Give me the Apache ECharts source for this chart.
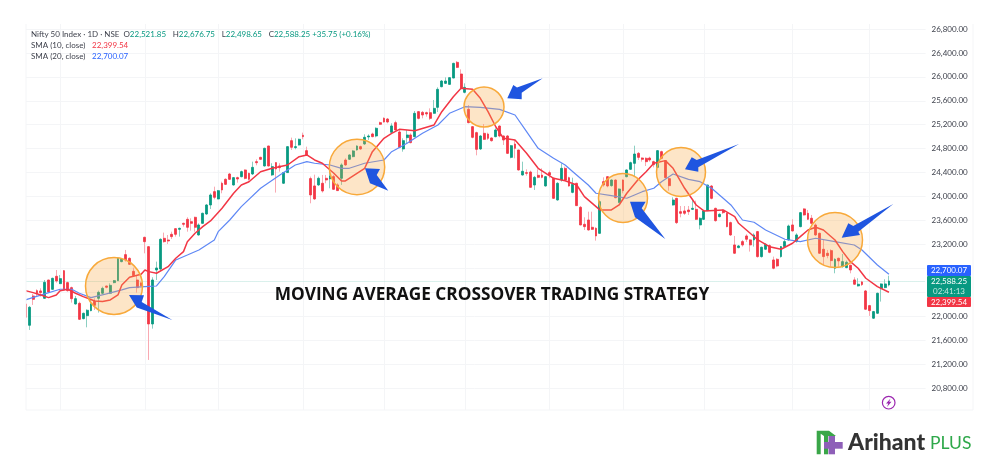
<!DOCTYPE html>
<html>
<head>
<meta charset="utf-8">
<style>
  html, body { margin: 0; padding: 0; background: #fff; }
  #chart { width: 1000px; height: 469px; }
</style>
<script src="https://cdn.jsdelivr.net/npm/echarts@6/dist/echarts.min.js"></script>
</head>
<body>
<div id="chart"></div>
<script>
// daily candles
var opens = [22204,21848,22338,22427,22422,22299,22605,22449,22667,22544,
  22761,22561,22477,22204,22215,21959,22009,22093,22249,22299,
  22383,22505,22383,22561,22594,22912,23029,22967,22750,22605,
  22555,23318,23162,21870,22772,22789,23302,23274,23369,23463,
  23452,23552,23619,23580,23653,23358,23552,23708,23859,24082,
  23959,24221,24288,24377,24193,24316,24332,24444,24388,24377,
  24583,24655,24511,24845,24361,24567,24511,24222,24400,24934,
  24818,24862,25024,24767,24300,24177,24194,24222,24305,24294,
  24333,24194,24305,24611,24623,24667,24779,24834,24879,24996,
  25046,25012,25235,25308,25296,25074,25235,25079,24795,24984,
  25029,25001,25419,25407,25402,25402,25391,25491,25836,25892,
  25875,25981,26243,26048,25742,25458,25168,25068,24795,25057,
  25045,24979,25001,25179,25012,25012,24655,24878,24778,24360,
  24399,24410,24193,24355,24360,24177,24399,24305,23943,24277,
  24471,24315,24070,24221,23820,23536,23608,23486,23469,23385,
  24249,24332,24182,24276,23903,24276,24332,24455,24555,24722,
  24644,24639,24644,24583,24488,24750,24600,24299,23859,23970,
  23747,23759,23775,23786,23786,23525,23619,23764,24176,23803,
  23664,23765,23720,23564,23191,23146,23247,23341,23275,23275,
  23414,22996,23119,23180,22940,22951,22996,23163,23275,23525,
  23247,23497,23793,23720,23637,23525,23386,23119,23052,23096,
  22801,22968,22829,22812,22851,22606,22506,22573,22422,22177,
  21966,22049,22461,22478,22521.85];
var closes = [21982,22149,22282,22371,22394,22566,22405,22633,22589,22628,
  22438,22427,22293,22293,21948,22048,22099,22204,22182,22399,
  22466,22483,22516,22594,22967,22951,22940,22867,22678,22477,
  22511,23246,21870,22605,22806,23285,23246,23257,23330,23369,
  23469,23536,23486,23552,23486,23525,23720,23859,24026,23987,
  24098,24110,24204,24288,24316,24293,24416,24304,24288,24488,
  24566,24622,24806,24511,24500,24461,24483,24400,24834,24823,
  24834,24957,25001,24695,24027,23960,24305,24093,24277,24344,
  24121,24099,24528,24528,24695,24762,24845,24795,24990,25012,
  25001,25141,25207,25246,25246,25180,25112,24823,24934,25029,
  24901,25391,25307,25363,25380,25307,25474,25792,25931,25931,
  25987,26226,26159,25808,25825,25235,24990,24789,25012,24956,
  24973,24934,25112,25012,24945,24722,24850,24806,24444,24422,
  24388,24154,24321,24321,24321,24332,24360,23970,24221,24472,
  24276,24176,24204,23848,23525,23497,23441,23452,23341,23914,
  24193,24176,24276,23981,24126,24098,24444,24566,24711,24655,
  24622,24583,24611,24533,24767,24639,24316,24182,23942,23564,
  23720,23720,23747,23803,23619,23636,23759,24193,23970,23597,
  23703,23731,23497,23358,23052,23174,23191,23286,23191,23358,
  22996,23152,23202,23068,22801,22840,23163,23247,23508,23425,
  23358,23731,23692,23620,23553,23358,23052,22996,23013,22929,
  22951,22924,22912,22901,22773,22534,22534,22528,22116,22094,
  22077,22383,22539,22539,22588.25];
var lows = [21960,21770,22188,22338,22327,22293,22394,22445,22561,22539,
  22427,22410,22227,22193,21937,21948,21814,22082,22104,22060,
  22371,22466,22371,22550,22589,22901,22912,22856,22661,22394,
  22494,23051,21269,21792,22605,22772,23229,23207,23291,23330,
  23330,23497,23413,23430,23413,23346,23547,23692,23792,23954,
  23954,24054,24193,24277,24182,24232,24321,24288,24265,24360,
  24522,24611,24500,24500,24344,24066,24416,24210,24395,24779,
  24790,24851,24957,24684,23887,23943,24177,24066,24222,24138,
  24110,24094,24194,24511,24611,24656,24767,24779,24862,24946,
  24990,24990,25196,25235,25224,25068,25101,24806,24750,24889,
  24889,24990,25290,25307,25335,25279,25385,25413,25825,25881,
  25870,25976,26148,25803,25725,25224,24973,24689,24778,24945,
  24945,24917,24990,24990,24862,24711,24639,24639,24433,24349,
  24349,24148,24110,24305,24305,24165,24305,23960,23930,24249,
  24265,24165,24054,23842,23519,23441,23430,23441,23263,23380,
  24165,24154,24165,23970,23887,24054,24321,24444,24332,24611,
  24583,24510,24583,24488,24477,24622,24304,24098,23848,23541,
  23653,23692,23692,23775,23608,23452,23608,23759,23953,23580,
  23653,23709,23486,23341,23041,23135,23163,23241,23080,23163,
  22979,22979,23107,23052,22784,22818,22979,23152,23263,23414,
  23230,23486,23681,23609,23536,23341,23041,22857,22968,22829,
  22717,22829,22812,22801,22717,22523,22495,22506,22105,22005,
  21954,22038,22244,22467,22498.65];
var highs = [22220,22171,22371,22449,22466,22605,22610,22644,22772,22689,
  22772,22578,22494,22338,22243,22060,22115,22271,22299,22427,
  22494,22511,22550,22605,22972,22967,23107,22984,22812,22672,
  22578,23330,23174,22650,22912,23302,23397,23357,23413,23469,
  23480,23564,23653,23636,23664,23552,23731,23876,24054,24165,
  24110,24249,24304,24394,24327,24332,24433,24455,24399,24583,
  24622,24666,24817,24850,24556,24572,24556,24411,24840,24985,
  24973,24968,25068,24834,24333,24366,24333,24361,24361,24444,
  24361,24222,24556,24639,24706,24779,24857,24851,25040,25040,
  25068,25157,25252,25324,25313,25224,25268,25112,24973,25112,
  25057,25430,25430,25430,25419,25474,25614,25825,25948,25992,
  25992,26237,26265,26126,25892,25530,25179,25084,25029,25212,
  25068,24990,25140,25190,25023,25029,24862,24945,24784,24583,
  24455,24433,24344,24455,24472,24344,24433,24315,24240,24555,
  24500,24332,24315,24232,23842,23653,23747,23747,23486,23931,
  24321,24343,24288,24288,24137,24288,24455,24583,24850,24744,
  24655,24655,24666,24600,24778,24767,24611,24316,23987,23981,
  23842,23842,23842,23942,23931,23653,23775,24198,24193,23814,
  23720,23787,23731,23581,23341,23191,23275,23369,23286,23386,
  23425,23163,23219,23202,22996,22968,23174,23275,23531,23620,
  23386,23742,23804,23776,23692,23553,23397,23274,23107,23119,
  22968,22979,23041,22929,22862,22651,22634,22590,22439,22188,
  22088,22394,22550,22617,22676.75];

// moving averages, read at these candle positions
var sma10Index = [0,2,4,6,8,9,11,13,15,18,20,22,24,25,27,30,31,32,34,37,39,41,42,44,46,48,51,54,56,58,61,64,68,71,73,75,77,80,82,83,88,90,93,95,97,101,106,108,111,113,116,118,120,122,124,127,130,133,137,140,143,145,149,152,154,156,159,161,163,166,168,171,174,176,181,184,185,188,190,193,196,199,201,203,205,207,210,212,214,216,218,221,224];
var sma10 = [22427,22394,22355,22310,22355,22427,22450,22384,22327,22255,22245,22272,22355,22522,22650,22700,22773,22745,22718,22828,22968,23079,23246,23386,23496,23592,23804,24055,24193,24248,24415,24472,24527,24666,24695,24611,24556,24389,24260,24260,24472,24750,24973,25057,25124,25101,25196,25418,25669,25809,25792,25642,25418,25167,24973,24945,24723,24472,24305,24265,24193,23998,23776,23776,23859,24055,24288,24415,24556,24600,24472,24138,23859,23759,23776,23664,23553,23386,23274,23162,23119,23219,23329,23441,23486,23441,23274,23079,22911,22801,22634,22494,22399.54];
var sma20Index = [0,5,9,12,14,17,21,25,27,31,34,36,39,42,45,49,50,53,56,61,66,70,73,75,79,82,84,88,93,95,99,103,107,110,114,118,123,127,130,133,137,140,142,146,148,152,156,160,163,165,168,172,175,178,181,183,186,189,192,197,201,205,210,215,217,221,224];
var sma20 = [22272,22372,22450,22450,22384,22310,22372,22439,22477,22494,22505,22661,22940,23023,23107,23274,23413,23608,23831,24138,24360,24527,24583,24556,24527,24472,24472,24556,24611,24750,24890,25057,25196,25391,25502,25492,25458,25363,25084,24806,24639,24527,24415,24193,24055,24015,23971,24081,24138,24248,24377,24288,24248,24138,23971,23859,23608,23570,23441,23286,23246,23303,23246,23190,23107,22856,22700.07];

var yTicks = [20800,21200,21600,22000,22400,22800,23200,23600,24000,24400,24800,25200,25600,26000,26400,26800];
var slotCount = 234;
var gridCandles = [9,31,50,72,93,114,136,155,176,199,219];

var lastClose = closes[closes.length - 1];
var lastSma10 = sma10[sma10.length - 1];
var lastSma20 = sma20[sma20.length - 1];

var up = "#089981", down = "#f23645", upWick = "#8ccfc2", downWick = "#f9a9b2";
var sansFont = "Lato";
var gridColor = "#f4f5f7";

function money(v) {
  return v.toLocaleString("en-US", { minimumFractionDigits: 2, maximumFractionDigits: 2 });
}
function pairs(xs, ys) {
  return xs.map(function (x, i) { return [x, ys[i]]; });
}

var categories = [];
for (var n = 0; n < slotCount; n++) categories.push("d" + n);

var wickData = opens.map(function (o, i) { return [o, closes[i], lows[i], highs[i]]; });
var bodyData = opens.map(function (o, i) {
  return [o, closes[i], Math.min(o, closes[i]), Math.max(o, closes[i])];
});

// hand drawn marks of the original picture
var circles = [[114,286,28.5],[357,167,27.7],[484,107,20],[623,198,24.5],[681,172,24.5],[835,240,27.5]];
var arrows = [
  [[129,295],[144,295.3],[141.7,302],[172.3,320],[136.7,307.5]],
  [[365,168.3],[380,169],[376.7,175],[388.3,190.7],[370,183.3]],
  [[507.3,98.3],[513.3,85],[517,87.5],[542.7,78.3],[521.7,92.7],[521.7,99.3]],
  [[630,201.7],[645.7,201.7],[641.7,208.3],[665.3,239],[635,217.3]],
  [[685,169.3],[691.7,157.3],[696.7,160],[739,144],[698.3,167.3],[698.3,171.7]],
  [[841.7,237.7],[848.3,223.3],[853.3,226],[893.3,204],[858.3,231.7],[860,235]]
];

var overlay = [];
// left mask so the first candle is cut at the pane edge
overlay.push({ type: "rect", z: 50, shape: { x: 0, y: 0, width: 26, height: 469 }, style: { fill: "#fff" } });
overlay.push({ type: "line", z: 50, shape: { x1: 26, y1: 24, x2: 26, y2: 410 }, style: { stroke: gridColor, lineWidth: 1 } });
overlay.push({ type: "line", z: 50, shape: { x1: 973, y1: 24, x2: 973, y2: 410 }, style: { stroke: gridColor, lineWidth: 1 } });
overlay.push({ type: "line", z: 50, shape: { x1: 26, y1: 410, x2: 973, y2: 410 }, style: { stroke: gridColor, lineWidth: 1 } });

circles.forEach(function (c) {
  overlay.push({
    type: "circle", z: 60,
    shape: { cx: c[0], cy: c[1], r: c[2] },
    style: { fill: "rgba(250,170,70,0.3)", stroke: "#f8a93a", lineWidth: 1.5 }
  });
});
arrows.forEach(function (a) {
  overlay.push({ type: "polygon", z: 61, shape: { points: a }, style: { fill: "#1f55e0" } });
});

// legend block
function headerRow(y, text, valueColor) {
  overlay.push({
    type: "text", z: 70, x: 31, y: y,
    style: {
      text: text,
      rich: {
        a: { fontFamily: sansFont, fontSize: 8, fill: "#3c3f4a" },
        v: { fontFamily: sansFont, fontSize: 8, fill: valueColor }
      }
    }
  });
}
headerRow(28, "{a|Nifty 50 Index · 1D · NSE  O}{v|22,521.85}  {a|H}{v|22,676.75}  {a|L}{v|22,498.65}  {a|C}{v|22,588.25 +35.75 (+0.16%)}", up);
headerRow(39, "{a|SMA (10, close)}  {v|" + money(lastSma10) + "}", down);
headerRow(50, "{a|SMA (20, close)}  {v|" + money(lastSma20) + "}", "#2962ff");

// big caption
overlay.push({
  type: "text", z: 70, x: 492, y: 295,
  style: {
    text: "MOVING AVERAGE CROSSOVER TRADING STRATEGY",
    fontFamily: "Open Sans", fontWeight: "bold", fontSize: 17.25,
    fill: "#111", align: "center", verticalAlign: "middle"
  }
});

// price tags on the axis
function tag(y, h, color) {
  overlay.push({ type: "rect", z: 70, shape: { x: 927, y: y, width: 44, height: h, r: 1 }, style: { fill: color } });
}
function tagText(y, txt, color) {
  overlay.push({
    type: "text", z: 71, x: 949, y: y,
    style: { text: txt, fontFamily: sansFont, fontSize: 8, fill: color, align: "center", verticalAlign: "middle" }
  });
}
tag(265, 11, "#2962ff");
tag(276, 21, up);
tag(297, 10, down);
tagText(270.5, money(lastSma20), "#fff");
tagText(281.5, money(lastClose), "#fff");
tagText(291.5, "02:41:13", "#c4e8e0");
tagText(302, money(lastSma10), "#fff");

// lightning badge
overlay.push({ type: "circle", z: 70, shape: { cx: 888.7, cy: 402.7, r: 6.3 }, style: { fill: "#fff", stroke: "#9c27b0", lineWidth: 1.2 } });
overlay.push({ type: "polygon", z: 71, shape: { points: [[890.5,398.5],[886,403.5],[888.3,403.5],[887,407],[891.5,401.8],[889.2,401.8]] }, style: { fill: "#9c27b0" } });

// logo
overlay.push({ type: "polygon", z: 70, shape: { points: [[816.7,430.7],[829,430.7],[836,436],[824,436],[820.7,433.8],[820.7,454.3],[816.7,454.3]] }, style: { fill: "#3aa648" } });
overlay.push({ type: "rect", z: 70, shape: { x: 824, y: 436, width: 4, height: 18.3 }, style: { fill: "#3aa648" } });
overlay.push({ type: "rect", z: 71, shape: { x: 828.5, y: 436, width: 6.5, height: 18.3 }, style: { fill: "#8e5fb8" } });
overlay.push({ type: "rect", z: 71, shape: { x: 824, y: 442, width: 18.7, height: 6.7 }, style: { fill: "#8e5fb8" } });
overlay.push({
  type: "text", z: 70, x: 848, y: 443,
  style: { text: "Arihant", fontFamily: "Lato", fontWeight: 900, fontSize: 23, fill: "#333", verticalAlign: "middle" }
});
overlay.push({
  type: "text", z: 70, x: 930, y: 443,
  style: { text: "PLUS", fontFamily: "Lato", fontSize: 17.5, fill: "#2ea84a", verticalAlign: "middle" }
});

var chart = echarts.init(document.getElementById("chart"), null, { renderer: "canvas" });
chart.setOption({
  animation: false,
  backgroundColor: "#fff",
  grid: { left: 23.51, top: 24, width: 902.07, height: 386 },
  xAxis: {
    type: "category",
    data: categories,
    boundaryGap: true,
    axisLine: { show: false },
    axisTick: { show: false },
    axisLabel: { show: false },
    splitLine: { show: false }
  },
  yAxis: {
    type: "value",
    position: "right",
    min: 20432,
    max: 26884,
    axisLine: { show: false },
    axisTick: { show: false, customValues: yTicks },
    splitLine: { show: true, lineStyle: { color: gridColor, width: 1 } },
    axisLabel: {
      customValues: yTicks,
      margin: 6,
      color: "#3f424d",
      fontFamily: sansFont,
      fontSize: 8,
      formatter: function (v) { return money(v); }
    }
  },
  series: [
    {
      name: "wicks",
      type: "candlestick",
      barWidth: 1,
      data: wickData,
      itemStyle: { color: upWick, color0: downWick, borderColor: upWick, borderColor0: downWick, borderWidth: 1 },
      markLine: {
        silent: true,
        symbol: "none",
        z: 0,
        label: { show: false },
        lineStyle: { color: gridColor, width: 1, type: "solid" },
        data: gridCandles.map(function (i) { return { xAxis: i }; })
      }
    },
    {
      name: "bodies",
      type: "candlestick",
      barWidth: 2.4,
      z: 3,
      data: bodyData,
      itemStyle: { color: up, color0: down, borderColor: up, borderColor0: down, borderWidth: 0.8 },
      markLine: {
        silent: true,
        symbol: "none",
        z: 1,
        label: { show: false },
        lineStyle: { color: "#b5e2d9", width: 1, type: "dotted" },
        data: [{ yAxis: lastClose }]
      }
    },
    {
      name: "SMA 20",
      type: "line",
      z: 4,
      data: pairs(sma20Index, sma20),
      showSymbol: false,
      lineStyle: { color: "#5f88f5", width: 1.2 }
    },
    {
      name: "SMA 10",
      type: "line",
      z: 5,
      data: pairs(sma10Index, sma10),
      showSymbol: false,
      lineStyle: { color: "#f23645", width: 1.5 }
    }
  ],
  graphic: { elements: overlay }
});
</script>
</body>
</html>
